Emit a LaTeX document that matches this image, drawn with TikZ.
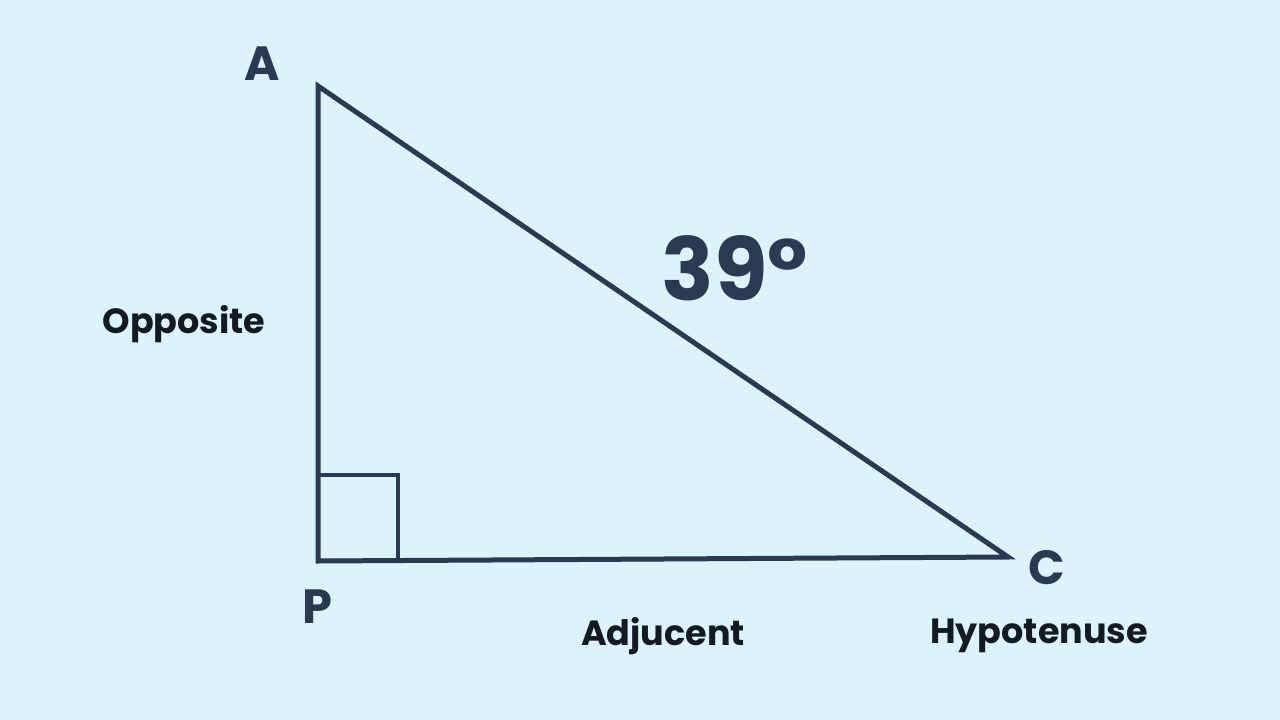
\documentclass[tikz,border=0pt]{standalone}
\usepackage{fontspec}
\setmainfont{Poppins}
\definecolor{bgc}{HTML}{DDF3FB}
\definecolor{navy}{HTML}{2B3A52}
\definecolor{ink}{HTML}{141A22}
\begin{document}
\begin{tikzpicture}[x=1pt,y=-1pt,
  side/.style={draw=navy,line width=5pt,line join=miter},
  vertex/.style={text=navy,font=\fontsize{48}{50}\selectfont\bfseries,inner sep=0pt},
  lbl/.style={text=ink,font=\fontsize{35}{37}\selectfont\bfseries,inner sep=0pt}]
\fill[bgc] (0,0) rectangle (1280,720);
\useasboundingbox (0,0) rectangle (1280,720);
\coordinate (A) at (318,86);
\coordinate (P) at (318,561);
\coordinate (C) at (1008,557);
\draw[side] (A) -- (P) -- (C) -- cycle;
\draw[side,line width=4.5pt] (318,475) -- (398,475) -- (398,561);
\node[vertex] (lA) at (262,64) {A};
\node[vertex] (lP) at (317,607) {P};
\node[vertex] (lC) at (1047,568) {C};
\node[lbl] (opp) at (184,324) {Opposite};
\node[lbl] (adj) at (663,636) {Adjucent};
\node[lbl] (hyp) at (1039,636) {Hypotenuse};
\node[text=navy,font=\fontsize{87}{90}\selectfont\bfseries,inner sep=0pt] (ang) at (735,268) {39°};
\end{tikzpicture}
\end{document}
